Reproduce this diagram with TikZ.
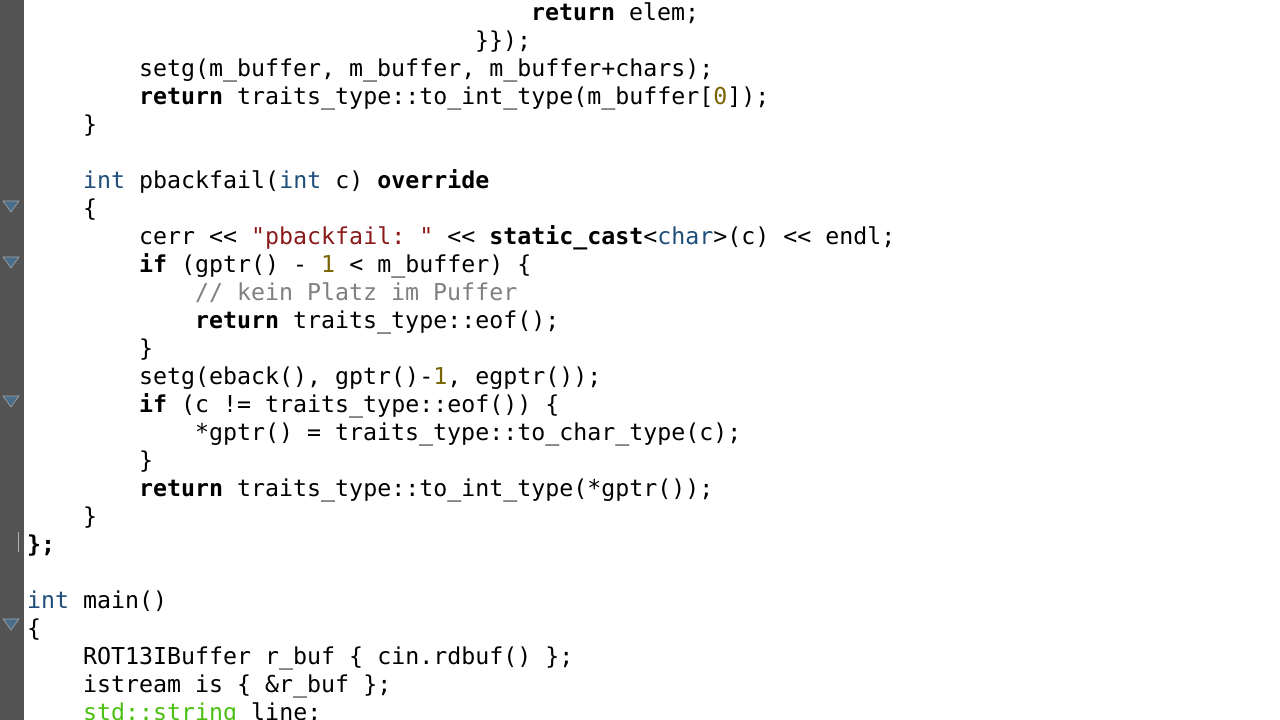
\documentclass[tikz,border=0pt]{standalone}
\usepackage{fontspec}
\setmonofont{DejaVu Sans Mono}
\definecolor{kwblue}{HTML}{1F4E7A}
\definecolor{numc}{HTML}{7A6400}
\definecolor{strc}{HTML}{8B1A1A}
\definecolor{cmc}{HTML}{808080}
\definecolor{grn}{HTML}{4CC010}
\definecolor{bar}{HTML}{535353}
\definecolor{mark}{HTML}{4A6E8A}
\newcommand{\kw}[1]{\textbf{#1}}
\newcommand{\ty}[1]{\textcolor{kwblue}{#1}}
\newcommand{\nm}[1]{\textcolor{numc}{#1}}
\newcommand{\sr}[1]{\textcolor{strc}{#1}}
\newcommand{\cmt}[1]{\textcolor{cmc}{#1}}
\newcommand{\gr}[1]{\textcolor{grn}{#1}}
\newcommand{\codeln}[3]{\node[code] (l#1) at ({27+14*#2},{20+28*#1}) {#3};}
\begin{document}
\begin{tikzpicture}[x=1pt,y=-1pt,
  code/.style={anchor=base west,inner sep=0pt,font=\ttfamily\fontsize{23.26}{28}\selectfont},
  fold/.style={fill=mark,draw=gray!70!white,line width=0.6pt}]
\useasboundingbox (0,0) rectangle (1280,720);
\fill[white] (0,0) rectangle (1280,720);
\fill[bar] (0,0) rectangle (24,720);
\foreach \y in {207,263,402,625}{
  \filldraw[fold] (3,\y-6) -- (19,\y-6) -- (11,\y+5) -- cycle;
}
\draw[gray!60,line width=1pt] (18,532) -- (18,552);
\codeln{0}{36}{\kw{return} elem;}
\codeln{1}{32}{\}\});}
\codeln{2}{8}{setg(m\_buffer, m\_buffer, m\_buffer+chars);}
\codeln{3}{8}{\kw{return} traits\_type::to\_int\_type(m\_buffer[\nm{0}]);}
\codeln{4}{4}{\}}
\codeln{6}{4}{\ty{int} pbackfail(\ty{int} c) \kw{override}}
\codeln{7}{4}{\{}
\codeln{8}{8}{cerr << \sr{"pbackfail: "} << \kw{static\_cast}<\ty{char}>(c) << endl;}
\codeln{9}{8}{\kw{if} (gptr() - \nm{1} < m\_buffer) \{}
\codeln{10}{12}{\cmt{// kein Platz im Puffer}}
\codeln{11}{12}{\kw{return} traits\_type::eof();}
\codeln{12}{8}{\}}
\codeln{13}{8}{setg(eback(), gptr()-\nm{1}, egptr());}
\codeln{14}{8}{\kw{if} (c != traits\_type::eof()) \{}
\codeln{15}{12}{*gptr() = traits\_type::to\_char\_type(c);}
\codeln{16}{8}{\}}
\codeln{17}{8}{\kw{return} traits\_type::to\_int\_type(*gptr());}
\codeln{18}{4}{\}}
\codeln{19}{0}{\kw{\};}}
\codeln{21}{0}{\ty{int} main()}
\codeln{22}{0}{\{}
\codeln{23}{4}{ROT13IBuffer r\_buf \{ cin.rdbuf() \};}
\codeln{24}{4}{istream is \{ \&r\_buf \};}
\codeln{25}{4}{\gr{std::string} line;}
\end{tikzpicture}
\end{document}
